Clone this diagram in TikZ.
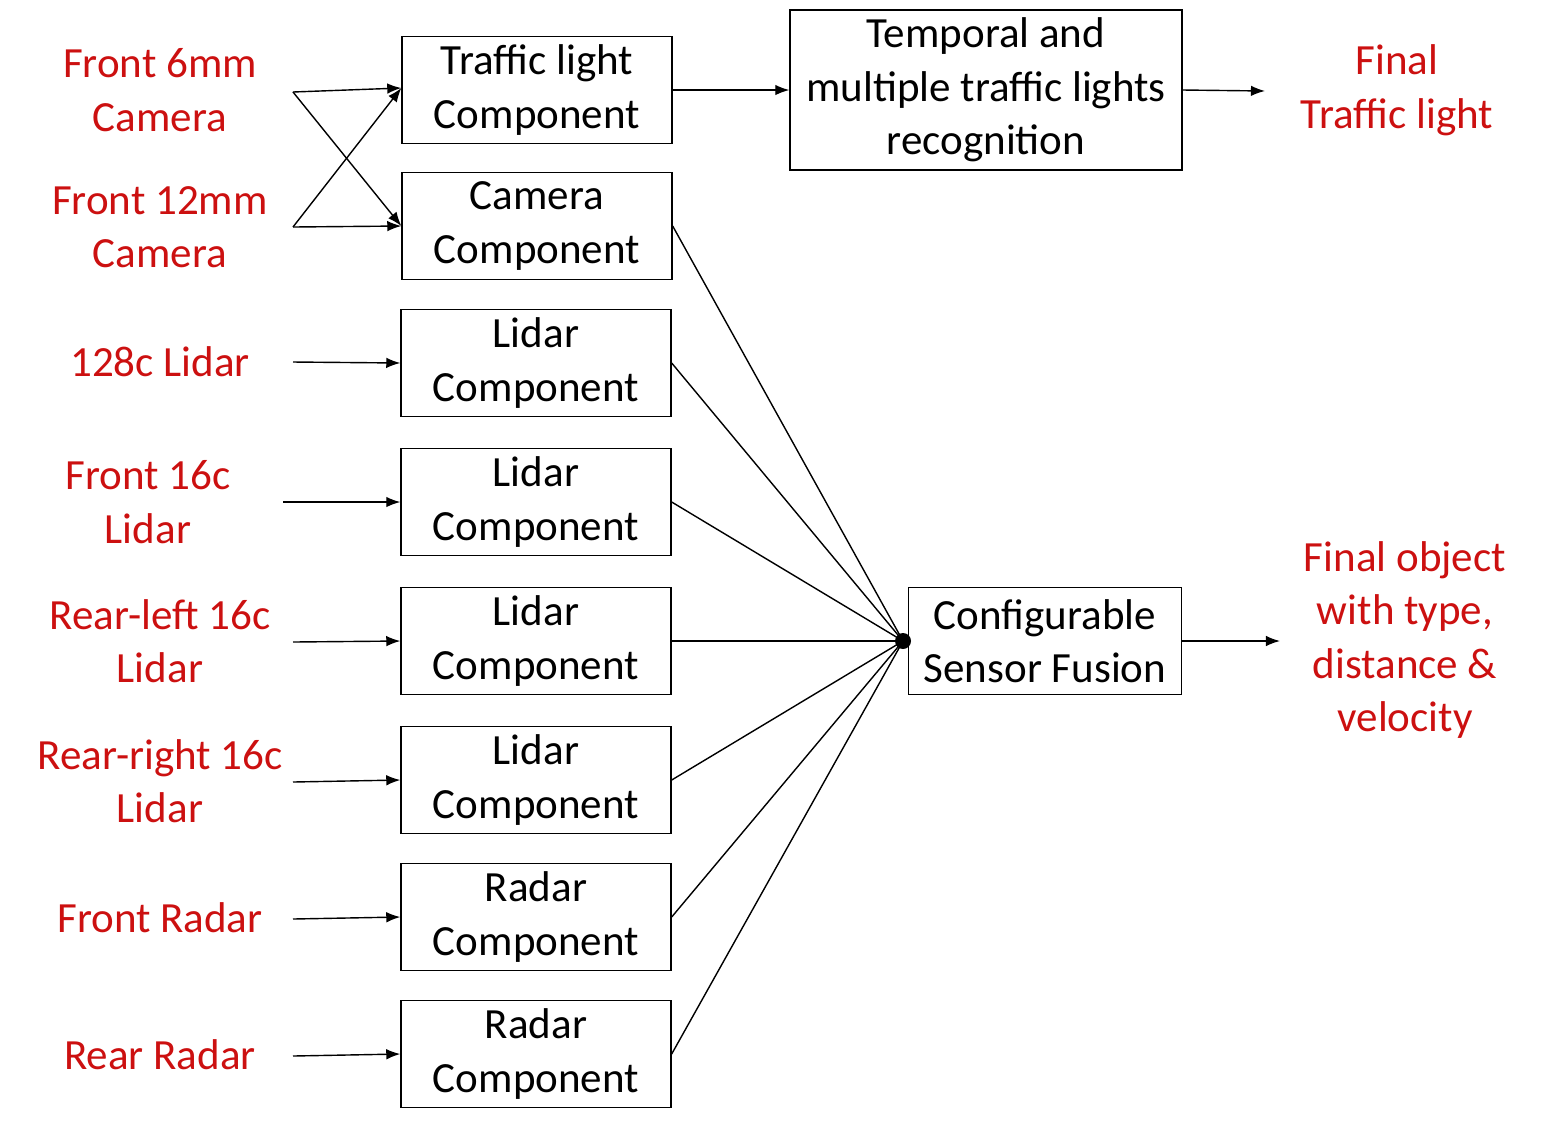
\documentclass[tikz,border=0pt]{standalone}
\usepackage{fontspec}
\setmainfont{Carlito}
\usepackage{xcolor}
\definecolor{label-red}{RGB}{204,16,16}
\usetikzlibrary{positioning,arrows.meta}

\begin{document}
\begin{tikzpicture}[
  x=0.02cm, y=-0.02cm,
  comp/.style={
    rectangle,
    draw=black,
    thick,
    minimum width=5.4cm,
    minimum height=2.14cm,
    align=center,
    font=\fontsize{24.5}{30.5}\selectfont,
    inner sep=0pt
  },
  src/.style={
    align=center,
    text=label-red,
    font=\fontsize{24.5}{30.5}\selectfont
  },
  arrow/.style={
    -{Latex[length=8pt,width=6pt]},
    thick
  },
  link/.style={
    thick
  }
]
\useasboundingbox (0,0) rectangle (1564,1144);

% Components
\node[comp] (traffic) at (537,90) {Traffic light\\Component};
\node[comp] (camera) at (537,226) {Camera\\Component};
\node[comp] (lidarA) at (536,363) {Lidar\\Component};
\node[comp] (lidarB) at (536,502) {Lidar\\Component};
\node[comp] (lidarC) at (536,641) {Lidar\\Component};
\node[comp] (lidarD) at (536,780) {Lidar\\Component};
\node[comp] (radarA) at (536,917) {Radar\\Component};
\node[comp] (radarB) at (536,1054) {Radar\\Component};
\node[comp, minimum width=7.84cm, minimum height=3.2cm] (temporal) at (986,90)
  {Temporal and\\multiple traffic lights\\recognition};
\node[comp, minimum width=5.46cm] (fusion) at (1045,641) {Configurable\\Sensor Fusion};

% Sources
\node[src] (cam6) at (160,90) {Front 6mm\\Camera};
\node[src] (cam12) at (160,227) {Front 12mm\\Camera};
\node[src] (lid128) at (160,362) {128c Lidar};
\node[src] (lidF) at (148,502) {Front 16c\\Lidar};
\node[src] (lidRL) at (160,641) {Rear-left 16c\\Lidar};
\node[src] (lidRR) at (160,781) {Rear-right 16c\\Lidar};
\node[src] (radF) at (160,918) {Front Radar};
\node[src] (radR) at (160,1055) {Rear Radar};
\node[src] (finalTL) at (1397,90) {Final\\Traffic light};
\node[src] (finalObj) at (1405,640) {Final object\\with type,\\distance \&\\velocity};

% Free ends
\coordinate (c6) at (293,92);
\coordinate (c12) at (293,227);
\coordinate (c128) at (293,362);
\coordinate (cF) at (283,502);
\coordinate (cRL) at (293,642);
\coordinate (cRR) at (293,782);
\coordinate (cRF) at (293,919);
\coordinate (cRR2) at (293,1056);
\coordinate (hub) at (903,641);
\coordinate (tlEnd) at (1265,91);
\coordinate (objEnd) at (1280,641);

% Camera inputs
\draw[arrow] (c6) -- ([yshift=0.04cm]traffic.west);
\draw[arrow] (c6) -- (camera.west);
\draw[arrow] (c12) -- ([yshift=0.04cm]traffic.west);
\draw[arrow] (c12) -- (camera.west);

% Other inputs
\draw[arrow] (c128) -- (lidarA.west);
\draw[arrow] (cF) -- (lidarB.west);
\draw[arrow] (cRL) -- (lidarC.west);
\draw[arrow] (cRR) -- (lidarD.west);
\draw[arrow] (cRF) -- (radarA.west);
\draw[arrow] (cRR2) -- (radarB.west);

% Traffic light path
\draw[arrow] (traffic.east) -- (temporal.west);
\draw[arrow] (temporal.east) -- (tlEnd);

% Fusion inputs
\foreach \n in {camera,lidarA,lidarB,lidarC,lidarD,radarA,radarB}
  \draw[link] (\n.east) -- (hub);
\fill (hub) circle (0.16cm);
\draw[arrow] (fusion.east) -- (objEnd);

\end{tikzpicture}
\end{document}
